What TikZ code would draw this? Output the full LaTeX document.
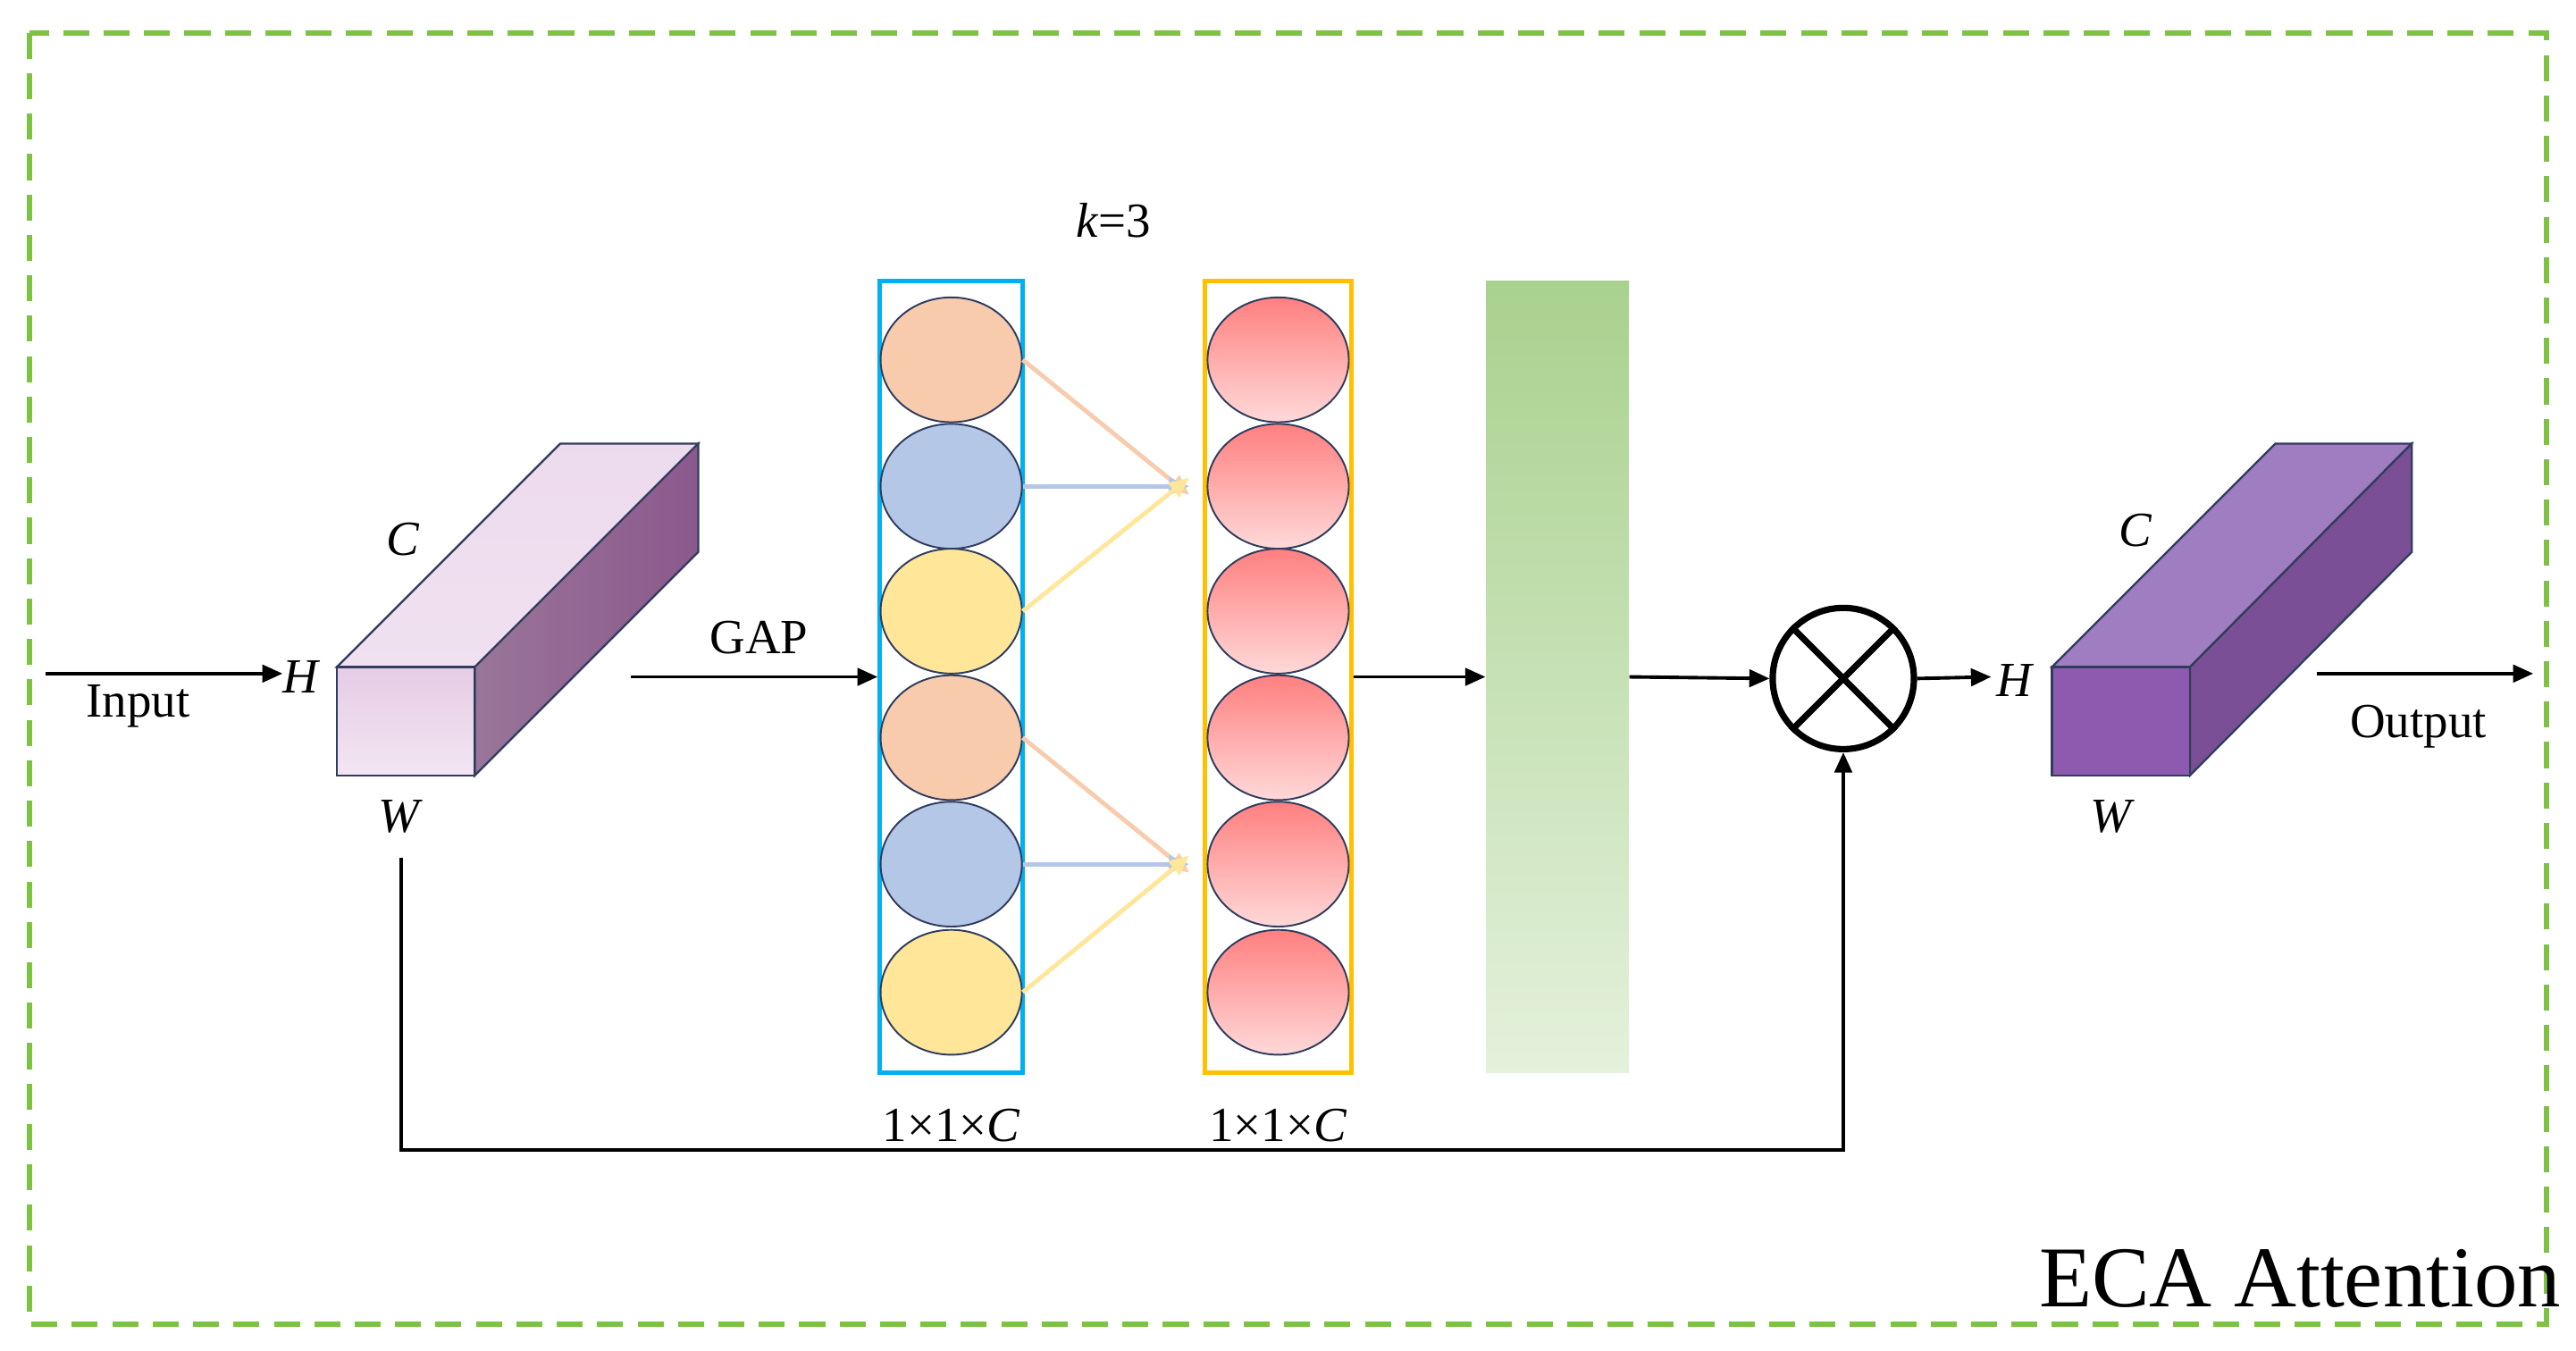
\documentclass[tikz,border=0pt]{standalone}
\usepackage{fontspec}
\setmainfont{Liberation Serif}
\usetikzlibrary{shapes.geometric,arrows.meta}
\definecolor{dgreen}{HTML}{7DC242}
\definecolor{cblue}{HTML}{00B0F0}
\definecolor{corange}{HTML}{FFC000}
\definecolor{peach}{HTML}{F8CBAD}
\definecolor{lblue}{HTML}{B4C7E7}
\definecolor{lyel}{HTML}{FFE699}
\definecolor{edge}{HTML}{2F3C5E}
\tikzset{
  lbl/.style={font=\fontsize{17}{20}\selectfont},
  ilbl/.style={font=\fontsize{17}{20}\selectfont\itshape},
  arr/.style={-{Triangle[length=7pt,width=6pt]},line width=1.2pt},
  cell/.style={ellipse,draw=edge,line width=0.6pt,minimum width=1.72cm,minimum height=1.52cm,inner sep=0pt},
  redcell/.style={cell,top color=red!50,bottom color=red!15},
  carr/.style={-{Triangle[length=7pt,width=6pt]},line width=1.2pt},
}
\begin{document}
\begin{tikzpicture}[x=0.02cm,y=-0.02cm]
\useasboundingbox (0,0) rectangle (1568,822);
\draw[dgreen,line width=2pt,dash pattern=on 9pt off 5pt] (18,20) rectangle (1550,806);
% cuboid 1
\shade[top color=black!0!white!60!violet!35,bottom color=violet!12,draw=edge,line width=0.7pt] (205,406) -- (341,270) -- (425,270) -- (289,406) -- cycle;
\shade[left color=violet!35!gray!80,right color=violet!45!gray!90,draw=edge,line width=0.7pt] (289,406) -- (425,270) -- (425,336) -- (289,472) -- cycle;
\node[draw=edge,line width=0.7pt,top color=violet!20,bottom color=violet!10,minimum width=1.68cm,minimum height=1.32cm,inner sep=0pt] (cub1) at (247,439) {};
% cuboid 2
\fill[draw=edge,line width=0.7pt,fill={rgb,255:red,160;green,124;blue,192}] (1249,406) -- (1385,270) -- (1468,270) -- (1333,406) -- cycle;
\fill[draw=edge,line width=0.7pt,fill={rgb,255:red,122;green,79;blue,150}] (1333,406) -- (1468,270) -- (1468,336) -- (1333,472) -- cycle;
\node[draw=edge,line width=0.7pt,fill={rgb,255:red,142;green,90;blue,176},minimum width=1.68cm,minimum height=1.32cm,inner sep=0pt] (cub2) at (1291,439) {};
% labels around cuboids
\node[ilbl] (c1) at (245,328) {C};
\node[ilbl] (h1) at (183,412) {H};
\node[ilbl] (w1) at (243,497) {W};
\node[ilbl] (c2) at (1300,323) {C};
\node[ilbl] (h2) at (1226,414) {H};
\node[ilbl] (w2) at (1285,497) {W};
\node[lbl] (inl) at (84,430) {Input};
\node[lbl] (outl) at (1472,442) {Output};
\coordinate (inS) at (28,410);
\coordinate (inE) at (172,410);
\draw[arr] (inS) -- (inE);
\coordinate (outS) at (1410,410);
\coordinate (outE) at (1542,410);
\draw[arr] (outS) -- (outE);
% GAP
\node[lbl] (gap) at (462,388) {GAP};
\coordinate (gS) at (384,412);
% columns
\node[draw=cblue,line width=1.5pt,minimum width=1.74cm,minimum height=9.64cm,inner sep=0pt] (colA) at (579,412) {};
\node[draw=corange,line width=1.5pt,minimum width=1.78cm,minimum height=9.64cm,inner sep=0pt] (colB) at (778,412) {};
\node[top color={rgb,255:red,169;green,209;blue,142},bottom color={rgb,255:red,228;green,241;blue,220},minimum width=1.74cm,minimum height=9.64cm,inner sep=0pt] (colC) at (948,412) {};
\draw[arr] (gS) -- (colA.west);
\foreach \i/\y/\c in {1/219/peach,2/296/lblue,3/372/lyel,4/449/peach,5/526/lblue,6/604/lyel}{
  \node[cell,fill=\c] (a\i) at (579,\y) {};
  \node[redcell] (b\i) at (778,\y) {};
}
\node[lbl] (k) at (678,134) {\textit{k}=3};
\node[lbl] (d1) at (579,685) {1×1×\textit{C}};
\node[lbl] (d2) at (778,685) {1×1×\textit{C}};
% k arrows
\draw[carr,draw=peach,line width=1.5pt] (a1.east) -- ([xshift=-6,yshift=-3]b2.west);
\draw[carr,draw=lblue,line width=1.5pt] (a2.east) -- ([xshift=-6]b2.west);
\draw[carr,draw=lyel,line width=1.5pt] (a3.east) -- ([xshift=-6,yshift=3]b2.west);
\draw[carr,draw=peach,line width=1.5pt] (a4.east) -- ([xshift=-6,yshift=-3]b5.west);
\draw[carr,draw=lblue,line width=1.5pt] (a5.east) -- ([xshift=-6]b5.west);
\draw[carr,draw=lyel,line width=1.5pt] (a6.east) -- ([xshift=-6,yshift=3]b5.west);
% flow
\node[circle,draw,line width=2.2pt,minimum size=1.72cm,inner sep=0pt] (mul) at (1122,413) {};
\draw[line width=2.2pt] (mul.north west) -- (mul.south east) (mul.north east) -- (mul.south west);
\draw[arr] (colB.east) -- (colC.west);
\draw[arr] (colC.east) -- (mul.west);
\coordinate (hE) at (1212,412);
\draw[arr] (mul.east) -- (hE);
\coordinate (fb) at (244,522);
\draw[arr] (fb) -- (244,700) -| (mul.south);
\node[font=\fontsize{30}{34}\selectfont] (title) at (1400,778) {ECA Attention};
\end{tikzpicture}
\end{document}
